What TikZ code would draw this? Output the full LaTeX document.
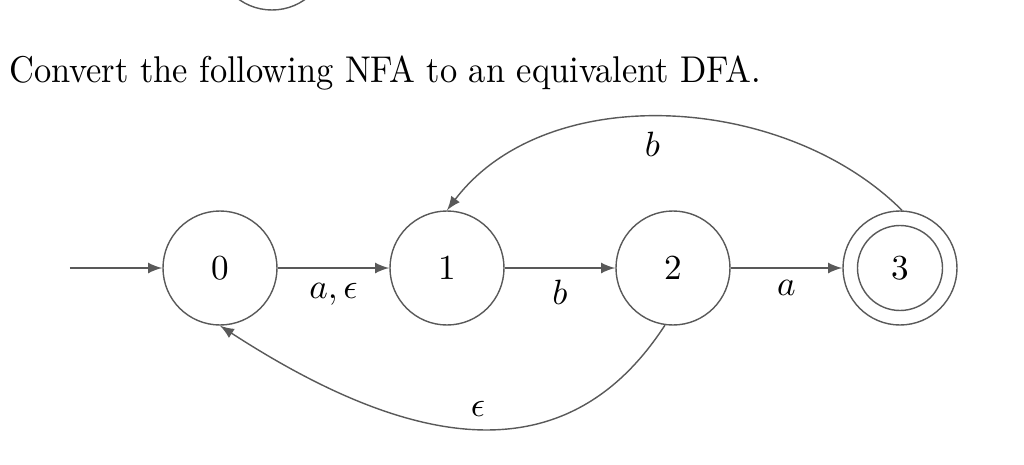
\documentclass[tikz,border=0pt]{standalone}
\usepackage{amssymb}
\usepackage{amsmath}
\usepackage{tikz}
\usetikzlibrary{arrows,positioning}
\begin{document}
\begin{tikzpicture}[>=latex, auto]
      \tikzset{
	  nfastate/.style={circle,draw=black!65,thin,minimum size=1.14cm,inner sep=0pt},
	  trans/.style={->,draw=black!65,thin}
      }
      \clip (0,0) rectangle (10.24,4.64);
      \draw[black!65,thin] (2.72,5.11) circle (0.57cm);
      \node at (-0.03, 3.82) [anchor=base west, xscale=0.98, yscale=1.06] (title) {Convert the following NFA to an equivalent DFA.};

      \node at (2.20, 1.96) [nfastate] (q0) {0};
      \node at (4.47, 1.96) [nfastate] (q1) {1};
      \node at (6.73, 1.96) [nfastate] (q2) {2};
      \node at (9.00, 1.96) [nfastate] (q3) {3};
      \draw[black!65,thin] (q3.center) circle (0.425cm);
      \coordinate (start) at (0.70, 1.96);

      \draw[trans] (start) -- (q0);
      \draw[trans] (q0) -- node[below, yshift=-0.03cm] {$a,\epsilon$} (q1);
      \draw[trans] (q1) -- node[below] {$b$} (q2);
      \draw[trans] (q2) -- node[below] {$a$} (q3);
      \draw[trans] (q3.88) .. controls +(135:1.65) and +(53:1.65) .. node[pos=0.53, below, yshift=-0.03cm] {$b$} (q1.90);
      \draw[trans] (q2.-98) .. controls +(-123:1.8) and +(-33:2.3) .. node[above] {$\epsilon$} (q0.-90);
\end{tikzpicture}
\end{document}
